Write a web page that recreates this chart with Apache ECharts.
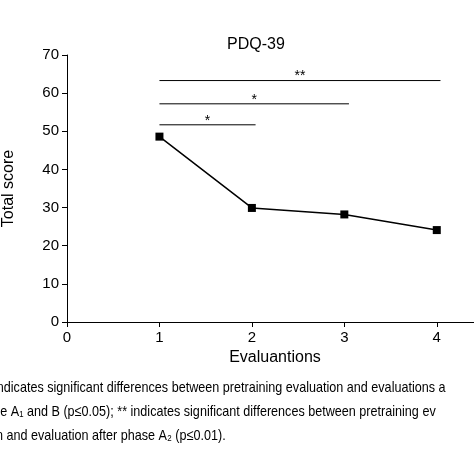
<!DOCTYPE html>
<html><head><meta charset="utf-8">
<script src="https://cdn.jsdelivr.net/npm/echarts@6/dist/echarts.min.js"></script>
<style>html,body{margin:0;padding:0;background:#fff}#main{width:474px;height:474px}</style>
</head><body><div id="main"></div>
<script>
var evals = [1, 2, 3, 4];
var scores = [48.6, 29.9, 28.2, 24.1];
var sigLines = [[1, 4.04, 63.3, '**'], [1, 3.05, 57.2, '*'], [1, 2.04, 51.7, '*']];
var yTicks = [0, 10, 20, 30, 40, 50, 60, 70];
var font = '"Liberation Sans Narrow", "Liberation Sans", Arial, sans-serif';

var myChart = echarts.init(document.getElementById('main'));
var sigSeries = sigLines.map(function (s) {
	return {
		type: 'line', symbol: 'none', silent: true,
		lineStyle: { color: '#000', width: 1 },
		data: [[s[0], s[2]], [s[1], s[2]]],
		markPoint: {
			symbol: 'rect', symbolSize: 0,
			label: { show: true, formatter: s[3], color: '#000', fontSize: 14, fontFamily: font, offset: [0, -4] },
			data: [{ coord: [(s[0] + s[1]) / 2, s[2]] }]
		}
	};
});
function foot(text, x, y) {
	return { type: 'text', x: x, y: y, scaleX: 0.84,
		style: { text: text, fontSize: 15, fontFamily: font, fill: '#000' } };
}
var option = {
	animation: false,
	title: { text: 'PDQ-39', left: 251, top: 32, textAlign: 'center',
		textStyle: { fontSize: 16, fontWeight: 'normal', color: '#000', fontFamily: font } },
	grid: { left: 67, right: -9, top: 55, bottom: 152, containLabel: false, outerBoundsMode: 'none' },
	xAxis: {
		type: 'value', min: 0, max: 4.5, interval: 1,
		name: 'Evaluantions', nameLocation: 'middle', nameGap: 28,
		nameTextStyle: { fontSize: 16, color: '#000', fontFamily: font },
		axisLine: { lineStyle: { color: '#000' } },
		axisTick: { lineStyle: { color: '#000' } },
		axisLabel: { color: '#000', fontSize: 15, fontFamily: font,
			formatter: function (v) { return v % 1 === 0 ? v : ''; } },
		splitLine: { show: false }
	},
	yAxis: {
		type: 'value', min: yTicks[0], max: yTicks[yTicks.length - 1], interval: 10,
		name: 'Total score', nameLocation: 'middle', nameGap: 50,
		nameTextStyle: { fontSize: 16, color: '#000', fontFamily: font },
		axisLine: { show: true, lineStyle: { color: '#000' } },
		axisTick: { show: true, lineStyle: { color: '#000' } },
		axisLabel: { color: '#000', fontSize: 15, fontFamily: font },
		splitLine: { show: false }
	},
	series: [{
		type: 'line', data: evals.map(function (e, i) { return [e, scores[i]]; }),
		symbol: 'rect', symbolSize: 8,
		lineStyle: { color: '#000', width: 1.5 }, itemStyle: { color: '#000' }
	}].concat(sigSeries),
	graphic: [
		foot('indicates significant differences between pretraining evaluation and evaluations a', -6, 380),
		foot('se A\u2081 and B (p\u22640.05); ** indicates significant differences between pretraining ev', -6, 404),
		foot('n and evaluation after phase A\u2082 (p\u22640.01).', -4, 428)
	]
};
myChart.setOption(option);
</script></body></html>
